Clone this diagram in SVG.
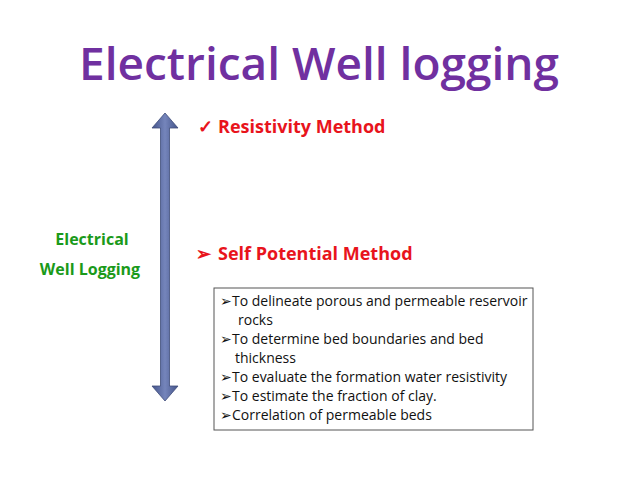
<svg xmlns="http://www.w3.org/2000/svg" width="638" height="478" viewBox="0 0 638 478">
<style>
text{font-family:"Open Sans","Liberation Sans",sans-serif}
.t{font-size:46px;font-weight:600;fill:#7030a0}
.m{font-size:18px;font-weight:bold;fill:#e8141c}
.g{font-size:16px;font-weight:bold;fill:#1a9a1a}
.b{font-size:14px;fill:#111}
</style>
<defs><linearGradient id="sh" x1="0" x2="1"><stop offset="0" stop-color="#44548a"/><stop offset="0.5" stop-color="#7585bb"/><stop offset="1" stop-color="#44548a"/></linearGradient></defs>
<rect width="638" height="478" fill="#fff"/>
<text class="t" x="319" y="80" text-anchor="middle" textLength="480" lengthAdjust="spacingAndGlyphs">Electrical Well logging</text>
<g id="arrow"><path d="M165,113 L178,128 L169.5,128 L169.5,386 L178,386 L165,401 L152,386 L160.5,386 L160.5,128 L152,128 Z" fill="url(#sh)" stroke="#3f4c7a" stroke-width="0.8"/></g>
<g id="label"><text class="g" x="92" y="245" text-anchor="middle">Electrical</text><text class="g" x="90" y="275" text-anchor="middle">Well Logging</text></g>
<g id="resistivity"><text class="m" x="198" y="133">✓ <tspan x="218">Resistivity Method</tspan></text></g>
<g id="sp"><text class="m" x="196" y="260">➢ <tspan x="218">Self Potential Method</tspan></text></g>
<g id="box"><rect x="214" y="288" width="319" height="142" fill="#fff" stroke="#555" stroke-width="1"/>
<text class="b" x="220" y="306">➢To delineate porous and permeable reservoir</text>
<text class="b" x="238" y="325">rocks</text>
<text class="b" x="220" y="344">➢To determine bed boundaries and bed</text>
<text class="b" x="235" y="363">thickness</text>
<text class="b" x="220" y="382">➢To evaluate the formation water resistivity</text>
<text class="b" x="220" y="401">➢To estimate the fraction of clay.</text>
<text class="b" x="220" y="420">➢Correlation of permeable beds</text></g>
</svg>
